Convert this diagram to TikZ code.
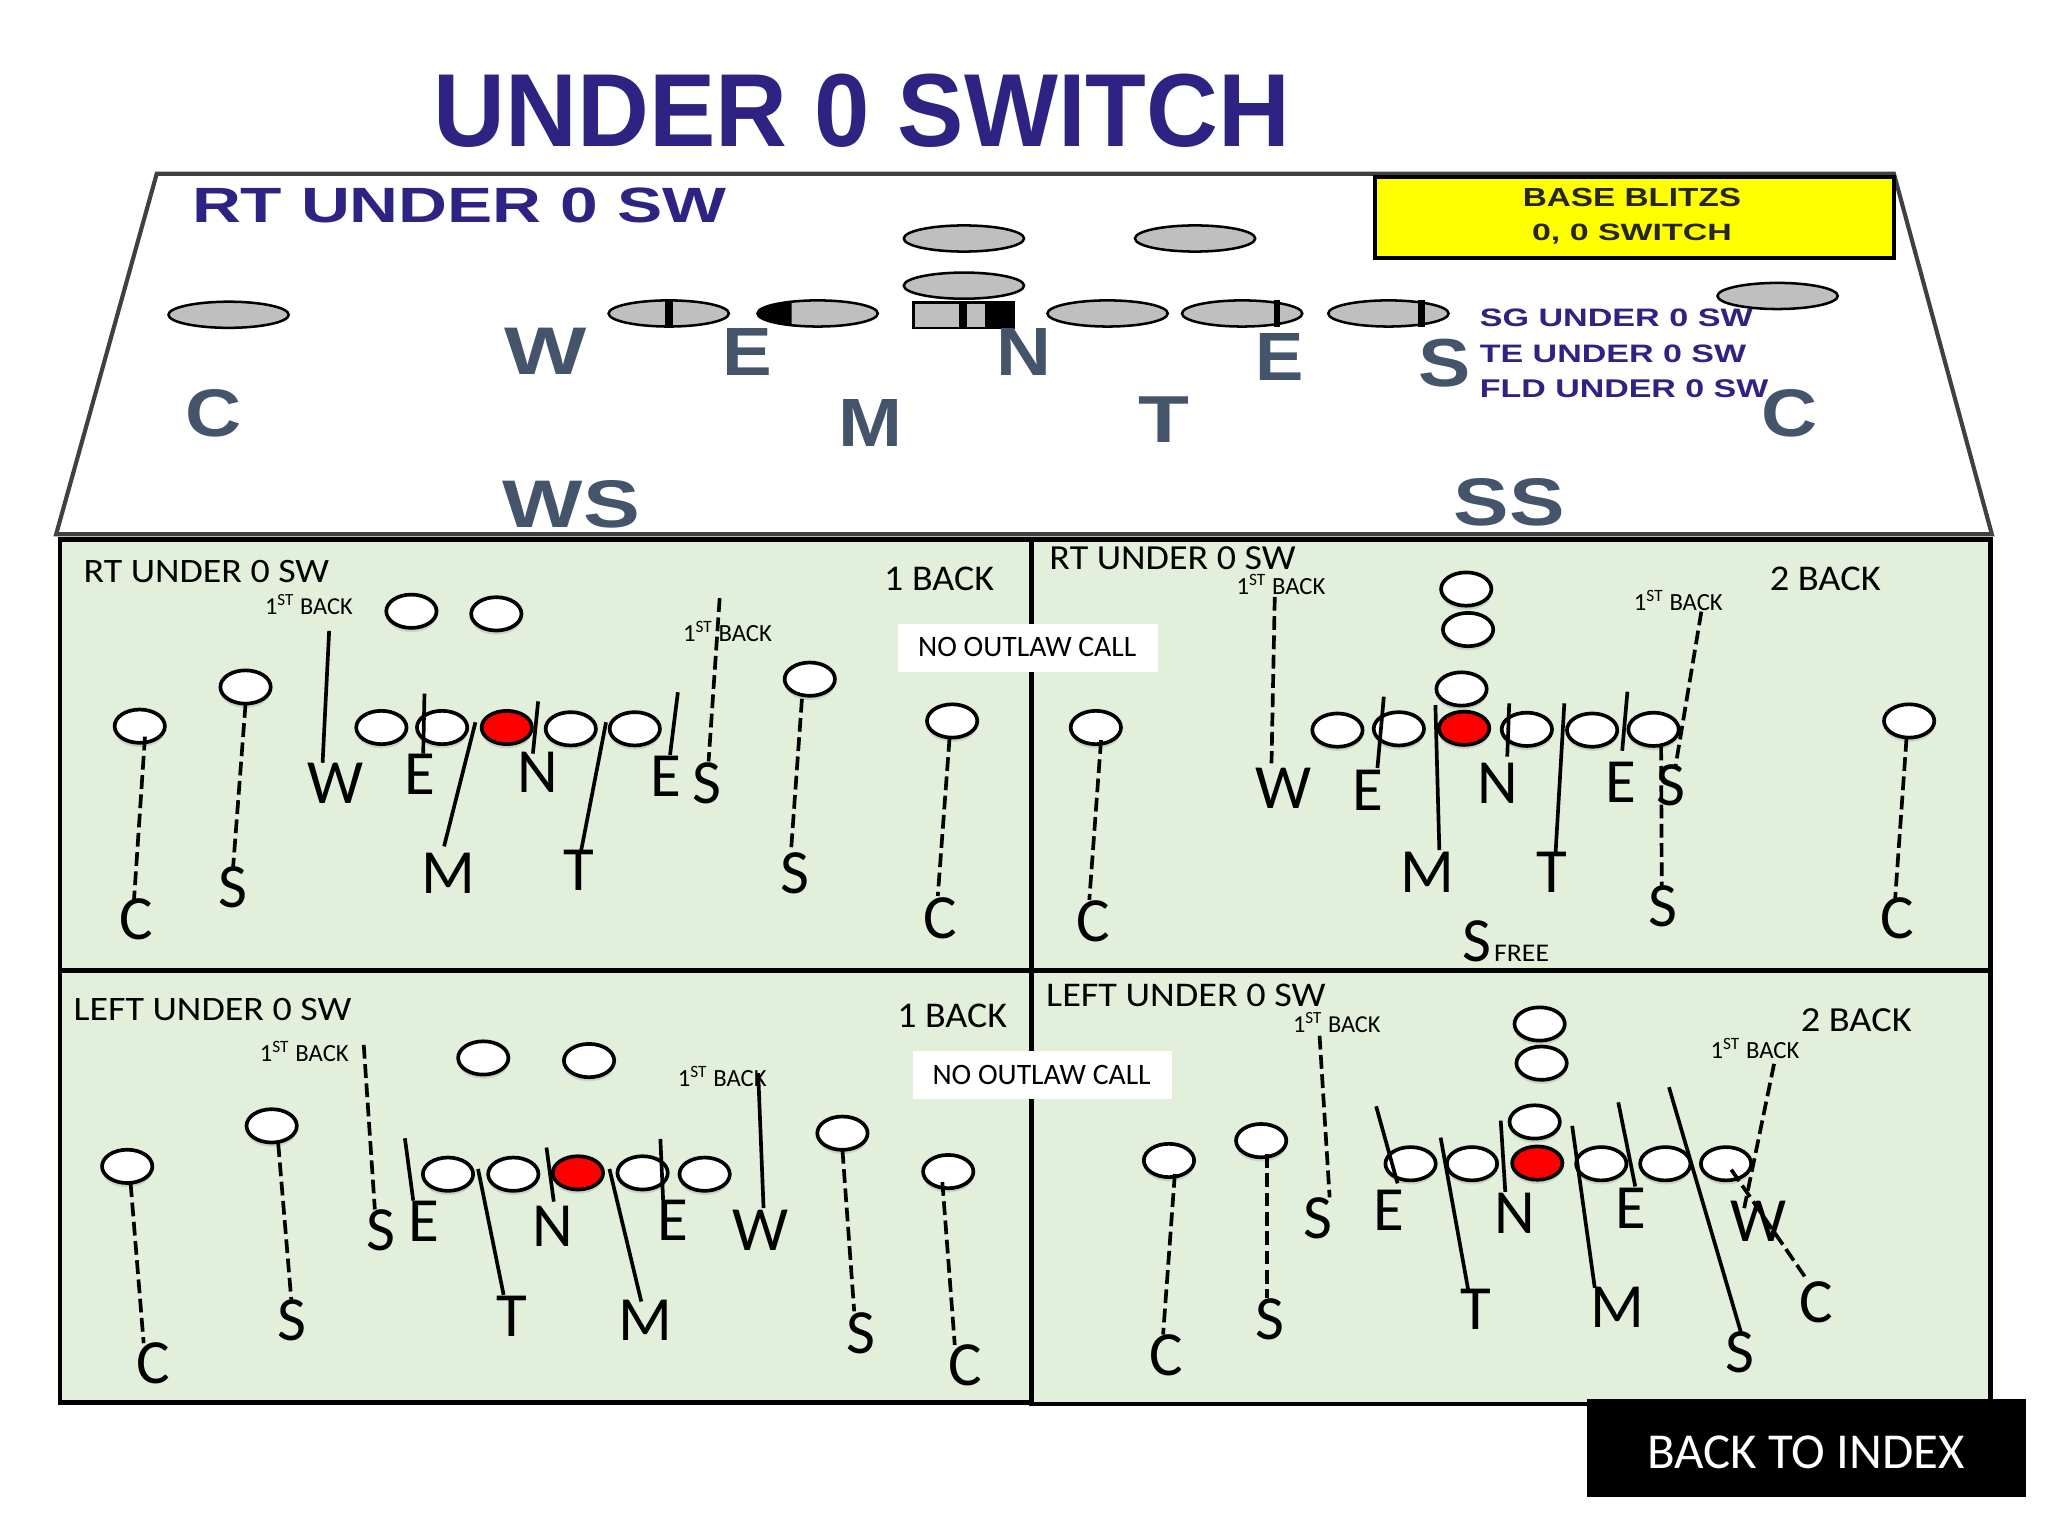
\documentclass[tikz,border=0pt]{standalone}
\usepackage{fontspec}
\usepackage{graphicx}
\setmainfont{Carlito}
\newfontfamily\arialf{Liberation Sans}
\usetikzlibrary{shapes.geometric,shadows}
\newlength\uu \setlength\uu{0.01cm}
\newcommand\fb[3]{\resizebox{#1\uu}{#2\uu}{#3}}
\newcommand\fw[2]{\resizebox{#1\uu}{!}{#2}}
\newcommand\fst{1\textsuperscript{ST} BACK}
\definecolor{navyt}{HTML}{2E2382}
\definecolor{slatel}{HTML}{44546A}
\definecolor{panelg}{HTML}{E2EFDA}
\definecolor{ovalg}{HTML}{BFBFBF}
\definecolor{trapline}{HTML}{404040}
\definecolor{pureyellow}{RGB}{255,255,0}
\definecolor{purered}{RGB}{255,0,0}
\tikzset{
 lbl/.style={inner sep=0pt,outer sep=0pt,anchor=north west},
 navy/.style={lbl,text=navyt,font=\arialf\bfseries},
 slate/.style={lbl,text=slatel,font=\arialf\bfseries},
 ltr/.style={inner sep=0pt,outer sep=0pt,text=black,font=\fontsize{13.7pt}{14pt}\selectfont},
 panel/.style={fill=panelg,draw=black,line width=1.05pt},
 gov/.style={ellipse,draw=black,fill=ovalg,line width=0.55pt,minimum width=0.92cm,minimum height=0.2cm,inner sep=0pt,outer sep=0pt},
 pl/.style={ellipse,draw=black,fill=white,line width=0.8pt,minimum width=0.385cm,minimum height=0.255cm,inner sep=0pt,outer sep=0pt,drop shadow={opacity=.25,shadow xshift=0pt,shadow yshift=-0.9pt}},
 ctr/.style={pl,fill=purered},
 rs/.style={draw=black,line width=0.8pt},
 rd/.style={draw=black,line width=0.8pt,dash pattern=on 3pt off 1.2pt},
 bar/.style={fill=black},
}
\begin{document}
\begin{tikzpicture}[x=0.01cm,y=-0.01cm]
\useasboundingbox (0,0) rectangle (1568,1176);
\fill[white] (0,0) rectangle (1568,1176);
% title
\node[navy] (title) at (332,57) {\fb{656}{55.5}{UNDER 0 SWITCH}};
% upper field
\draw[fill=white,draw=trapline,line width=0.9pt] (120,133) -- (1450,133) -- (1525,409) -- (43,409) -- cycle;
\node[draw=black,fill=pureyellow,line width=0.85pt,minimum width=3.97cm,minimum height=0.62cm,inner sep=0pt,anchor=north west] (basebox) at (1051.5,134) {};
\node[navy] (toplbl) at (147,143.5) {\fb{409}{26.5}{RT UNDER 0 SW}};
\node[lbl,text=black!85,font=\arialf\bfseries] (bb1) at (1166,144) {\fb{167}{14}{BASE BLITZS}};
\node[lbl,text=black!85,font=\arialf\bfseries] (bb2) at (1173,171.4) {\fb{153}{12.6}{0, 0 SWITCH}};
\node[navy] (sg) at (1133,236.5) {\fb{209}{13.5}{SG UNDER 0 SW}};
\node[navy] (te) at (1133,264) {\fb{204}{13.5}{TE UNDER 0 SW}};
\node[navy] (fld) at (1133,290.6) {\fb{221}{13.7}{FLD UNDER 0 SW}};
% grey players
\node[gov] (g1) at (738,182.6) {};
\node[gov] (g2) at (915,182.6) {};
\node[gov] (g3) at (738,218.7) {};
\node[gov] (g4) at (1361,226.6) {};
\node[gov] (g5) at (175,241) {};
\node[gov] (g6) at (512,240) {};
\node[gov] (g7) at (626,240) {};
\node[gov] (g8) at (848,240) {};
\node[gov] (g9) at (951,240) {};
\node[gov] (g10) at (1063,240) {};
\begin{scope}
\clip (g7.center) ++(-46,-10) rectangle ++(26,20);
\fill[black] (g7.center) ellipse [x radius=46,y radius=10];
\end{scope}
\fill[bar] (509,230.5) rectangle (515,250);
\fill[bar] (975.5,230) rectangle (980,250.5);
\fill[bar] (1085.5,230) rectangle (1091,250.5);
\node[draw=black,fill=ovalg,line width=0.55pt,minimum width=0.765cm,minimum height=0.195cm,inner sep=0pt,anchor=north west] (sq) at (698.6,230.5) {};
\fill[bar] (734.5,230.5) rectangle (740,250);
\fill[bar] (754,230.5) rectangle (775,250);
% upper letters
\node[slate] (uw) at (386,251.5) {\fb{63}{35.5}{W}};
\node[slate] (ue) at (553,251.5) {\fb{38}{36}{E}};
\node[slate] (un) at (763,251.5) {\fb{42}{36}{N}};
\node[slate] (ue2) at (961,255) {\fb{37}{36}{E}};
\node[slate] (us) at (1086,259.7) {\fb{40}{36.3}{S}};
\node[slate] (uc) at (142,298) {\fb{43}{36}{C}};
\node[slate] (um) at (642,306) {\fb{49}{36}{M}};
\node[slate] (ut) at (872,304) {\fb{39}{35}{T}};
\node[slate] (uc2) at (1349,298) {\fb{43}{36}{C}};
\node[slate] (uws) at (385,368) {\fb{105}{36}{WS}};
\node[slate] (uss) at (1113,366) {\fb{85}{36}{SS}};
% panels
\path[panel] (46,413) rectangle (790,743);
\path[panel] (790,413) rectangle (1524,743);
\path[panel] (46,743) rectangle (790,1074);
\path[panel] (790,743) rectangle (1524,1075);
% panel 1
\node[lbl] (p1t) at (64,429) {\fb{188}{17}{RT UNDER 0 SW}};
\node[lbl] (p1b) at (677,434) {\fb{84}{18}{1 BACK}};
\node[lbl] (p1f1) at (203,455) {\fw{67}{\fst}};
\node[fill=white,minimum width=1.99cm,minimum height=0.365cm,inner sep=0pt,anchor=north west] (p1n) at (687,477) {};
\node[lbl,anchor=center] (p1nt) at (786.5,495) {\fw{167}{NO OUTLAW CALL}};
\node[pl] (p1o1) at (315,468) {};
\node[pl] (p1o2) at (380,470) {};
\node[pl] (p1o3) at (188,526) {};
\node[pl] (p1o4) at (107,556) {};
\node[pl] (p1o5) at (292,557) {};
\node[pl] (p1o6) at (338.5,557) {};
\node[ctr] (p1o7) at (388,557) {};
\node[pl] (p1o8) at (437,558) {};
\node[pl] (p1o9) at (486,558) {};
\node[pl] (p1o10) at (620,520) {};
\node[pl] (p1o11) at (729,552) {};
\draw[rd] (111,564) -- (102.6,689);
\draw[rd] (188,539) -- (178.5,663.6);
\draw[rs] (252,483) -- (247,584);
\draw[rs] (325,531) -- (324,577);
\draw[rs] (364,553) -- (340,648);
\draw[rs] (412,537) -- (408,577);
\draw[rs] (464,553) -- (445,651);
\draw[rs] (519,530) -- (513,578);
\draw[rd] (551,458) -- (542.5,583);
\draw[rd] (614,535) -- (605.6,652);
\draw[rd] (727,565) -- (718,686);
\node[lbl] (p1f2) at (523,476) {\fw{68}{\fst}};
\node[ltr] (p1w) at (257,600) {W};
\node[ltr] (p1e) at (321.5,592.6) {E};
\node[ltr] (p1nn) at (412,591.6) {N};
\node[ltr] (p1e2) at (510,594) {E};
\node[ltr] (p1s) at (541,600) {S};
\node[ltr] (p1c) at (104,704) {C};
\node[ltr] (p1s2) at (178.5,679) {S};
\node[ltr] (p1m) at (343.6,668.7) {M};
\node[ltr] (p1tt) at (443,666.6) {T};
\node[ltr] (p1s3) at (609,669) {S};
\node[ltr] (p1c2) at (720,703) {C};
% panel 2
\node[lbl] (p2t) at (803.5,418.5) {\fb{188.5}{17.5}{RT UNDER 0 SW}};
\node[lbl] (p2b) at (1355,434) {\fb{85}{18}{2 BACK}};
\node[lbl] (p2f1) at (946.7,440) {\fw{68}{\fst}};
\node[lbl] (p2f2) at (1251,452) {\fw{68}{\fst}};
\node[pl] (p2o1) at (1122.6,451) {};
\node[pl] (p2o2) at (1124,482) {};
\node[pl] (p2o3) at (1119,527.5) {};
\node[pl] (p2o4) at (1024,559) {};
\node[pl] (p2o5) at (1071,558) {};
\node[ctr] (p2o6) at (1121,557.6) {};
\node[pl] (p2o7) at (1169,558.4) {};
\node[pl] (p2o8) at (1219,559) {};
\node[pl] (p2o9) at (1266,558.4) {};
\node[pl] (p2o10) at (839,557) {};
\node[pl] (p2o11) at (1461.7,552) {};
\draw[rd] (843,566.6) -- (834,689);
\draw[rd] (976,457) -- (973.5,584.4);
\draw[rs] (1059.5,533.4) -- (1054.6,588);
\draw[rs] (1099,539.8) -- (1102,650.8);
\draw[rs] (1155.5,538.5) -- (1154,579.3);
\draw[rs] (1197.7,538.5) -- (1191,652.8);
\draw[rs] (1246,529.6) -- (1242,574.8);
\draw[rd] (1302.6,468.3) -- (1283,585.7);
\draw[rd] (1271.8,571.7) -- (1272.3,680);
\draw[rd] (1459.7,565) -- (1451,687.8);
\node[ltr] (p2w) at (982.5,603.6) {W};
\node[ltr] (p2e) at (1047,605.4) {E};
\node[ltr] (p2nn) at (1146.5,599.8) {N};
\node[ltr] (p2e2) at (1241,599) {E};
\node[ltr] (p2s) at (1279,601) {S};
\node[ltr] (p2m) at (1093,668) {M};
\node[ltr] (p2tt) at (1188,668) {T};
\node[ltr] (p2s2) at (1273,694) {S};
\node[ltr] (p2c) at (837,705) {C};
\node[ltr] (p2c2) at (1452.7,703) {C};
\node[ltr] (p2s3) at (1130.6,721) {S};
\node[lbl] (p2fr) at (1144,723.5) {\fb{42}{12.5}{FREE}};
% panel 3
\node[lbl] (p3t) at (56.4,764) {\fb{212.6}{17}{LEFT UNDER 0 SW}};
\node[lbl] (p3b) at (687,769) {\fb{84}{18}{1 BACK}};
\node[lbl] (p3f1) at (199,797) {\fw{68}{\fst}};
\node[fill=white,minimum width=1.98cm,minimum height=0.37cm,inner sep=0pt,anchor=north west] (p3n) at (698.4,804) {};
\node[lbl,anchor=center] (p3nt) at (797.5,823) {\fw{167}{NO OUTLAW CALL}};
\node[pl] (p3o1) at (370,810) {};
\node[pl] (p3o2) at (451,812) {};
\node[pl] (p3o3) at (208,862) {};
\node[pl] (p3o4) at (97.4,893) {};
\node[pl] (p3o5) at (343,899) {};
\node[pl] (p3o6) at (393,899) {};
\node[ctr] (p3o7) at (442.5,898) {};
\node[pl] (p3o8) at (492,898) {};
\node[pl] (p3o9) at (539.5,899) {};
\node[pl] (p3o10) at (645,867.6) {};
\node[pl] (p3o11) at (726,897) {};
\draw[rd] (100,906) -- (110,1028.4);
\draw[rd] (213,875.3) -- (223,995);
\draw[rd] (278.5,800) -- (287,926);
\draw[rs] (310,871.5) -- (316.4,919.2);
\draw[rs] (366,895) -- (385.6,991.4);
\draw[rs] (418.4,878.6) -- (424,920);
\draw[rs] (466.6,895) -- (491,996.5);
\draw[rs] (505.6,872) -- (507.7,918.7);
\draw[rs] (580.5,821.7) -- (584.6,925);
\draw[rd] (645,880.4) -- (654,1004);
\draw[rd] (721.5,905) -- (731,1029.7);
\node[lbl] (p3f2) at (519,816.6) {\fw{68}{\fst}};
\node[ltr] (p3s) at (292,941.6) {S};
\node[ltr] (p3e) at (324.6,935) {E};
\node[ltr] (p3nn) at (423.6,939) {N};
\node[ltr] (p3e2) at (515,934) {E};
\node[ltr] (p3w) at (582,942) {W};
\node[ltr] (p3s2) at (223.6,1010.6) {S};
\node[ltr] (p3tt) at (392,1008) {T};
\node[ltr] (p3m) at (494,1010.6) {M};
\node[ltr] (p3s3) at (659,1021) {S};
\node[ltr] (p3c) at (117,1044) {C};
\node[ltr] (p3c2) at (739,1045.5) {C};
% panel 4
\node[lbl] (p4t) at (801,753.6) {\fb{214}{17.2}{LEFT UNDER 0 SW}};
\node[lbl] (p4b) at (1378.7,772.5) {\fb{85}{17.5}{2 BACK}};
\node[lbl] (p4f1) at (990,775) {\fw{67}{\fst}};
\node[lbl] (p4f2) at (1309.6,795) {\fw{68}{\fst}};
\node[pl] (p4o1) at (1178.8,784) {};
\node[pl] (p4o2) at (1180.3,814) {};
\node[pl] (p4o3) at (1175,859) {};
\node[pl] (p4o4) at (1080,891) {};
\node[pl] (p4o5) at (1127,891) {};
\node[ctr] (p4o6) at (1177,890.5) {};
\node[pl] (p4o7) at (1226,891) {};
\node[pl] (p4o8) at (1275,891) {};
\node[pl] (p4o9) at (1321.5,891) {};
\node[pl] (p4o10) at (965.6,873.3) {};
\node[pl] (p4o11) at (895,888.5) {};
\draw[rd] (899.5,898.8) -- (890.5,1021.8);
\draw[rd] (970,883.6) -- (970,994);
\draw[rd] (1010.3,793) -- (1018,916.7);
\draw[rs] (1053.6,847) -- (1070,906);
\draw[rs] (1103,871) -- (1124,987);
\draw[rs] (1149,858) -- (1152.5,912.6);
\draw[rs] (1203.7,862) -- (1221,986);
\draw[rs] (1239,844) -- (1252,908.4);
\draw[rs] (1277.8,832.4) -- (1333,1020.4);
\draw[rd] (1358.3,814.5) -- (1335.4,925);
\draw[rd] (1325.5,895.5) -- (1383.6,980);
\node[ltr] (p4s) at (1009,933) {S};
\node[ltr] (p4e) at (1063.5,926.4) {E};
\node[ltr] (p4nn) at (1160,929) {N};
\node[ltr] (p4e2) at (1248.4,925) {E};
\node[ltr] (p4w) at (1346.4,934.7) {W};
\node[ltr] (p4tt) at (1130,1002.4) {T};
\node[ltr] (p4m) at (1238.5,1001) {M};
\node[ltr] (p4s2) at (972.5,1010) {S};
\node[ltr] (p4c) at (893,1037.5) {C};
\node[ltr] (p4c2) at (1390.6,997.4) {C};
\node[ltr] (p4s3) at (1332.4,1035.6) {S};
% index button
\node[fill=black,minimum width=3.366cm,minimum height=0.749cm,inner sep=0pt,anchor=north west] (idx) at (1214,1070.7) {};
\node[lbl,text=white] (idxt) at (1261,1099) {\fb{243.4}{25}{BACK TO INDEX}};
\end{tikzpicture}
\end{document}
